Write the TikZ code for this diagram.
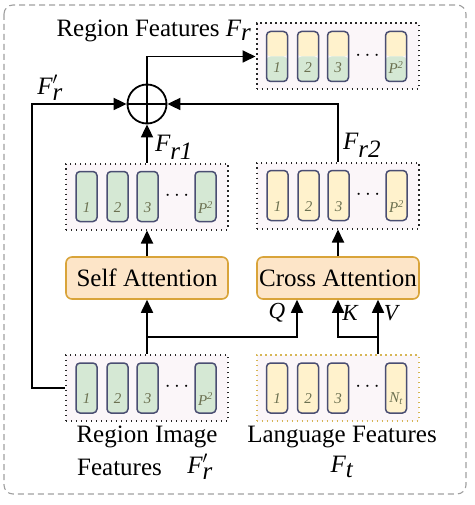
\documentclass[tikz,border=0pt]{standalone}
\usepackage{fontspec}
\setmainfont{Liberation Serif}
\usetikzlibrary{calc,arrows.meta}
\definecolor{pillline}{HTML}{4A4E72}
\definecolor{pgreen}{HTML}{D5E8D4}
\definecolor{pyellow}{HTML}{FFF2CC}
\definecolor{numcol}{HTML}{6B7050}
\definecolor{grpfill}{HTML}{FBF6F9}
\definecolor{attfill}{HTML}{FDE5C8}
\definecolor{attline}{HTML}{D9A43A}
\definecolor{langline}{HTML}{D6B656}
\definecolor{framecol}{HTML}{A0A0A0}
\newcommand{\bigf}{\fontsize{25}{30}\selectfont}
\newcommand{\numf}{\fontsize{15}{16}\selectfont\itshape\color{numcol}}
\tikzset{
  grp/.style={draw=black!85, line width=2pt, dash pattern=on 1.4pt off 3.6pt, fill=grpfill, minimum width=162pt, minimum height=66pt, inner sep=0pt},
  langgrp/.style={grp, draw=langline},
  pill/.style={draw=pillline, line width=1.5pt, rounded corners=4pt, minimum width=21pt, minimum height=50pt, inner sep=0pt},
  greenpill/.style={pill, fill=pgreen},
  yellowpill/.style={pill, fill=pyellow},
  twopill/.style={pill, path picture={
      \fill[pyellow] (path picture bounding box.north west) rectangle (path picture bounding box.east);
      \fill[pgreen] (path picture bounding box.west) rectangle (path picture bounding box.south east);}},
  att/.style={draw=attline, fill=attfill, line width=1.6pt, rounded corners=6pt, minimum width=162pt, minimum height=42pt, inner sep=0pt, font=\bigf},
  arr/.style={line width=1.8pt, -{Triangle[length=13pt,width=12pt]}},
  lbl/.style={font=\bigf, inner sep=0pt},
  qkv/.style={font=\fontsize{23}{25}\selectfont\itshape, inner sep=0pt},
  plus/.style={circle, draw, line width=1.8pt, minimum size=39pt, inner sep=0pt, path picture={
      \draw[line width=1.8pt] (path picture bounding box.north) -- (path picture bounding box.south)
        (path picture bounding box.west) -- (path picture bounding box.east);}}
}
% #1 group name, #2 pill style, #3 last label
\newcommand{\pills}[3]{%
  \foreach \i/\dx/\t in {1/21.5/1,2/52.5/2,3/82.5/3,4/140.5/{#3}}{%
    \node[#2] (#1-p\i) at ($(#1.west)+(\dx,0)$) {};
    \node[font=\numf, inner sep=0pt] (#1-n\i) at ($(#1-p\i.center)+(0,11)$) {\t};
  }
  \node[font=\fontsize{22}{22}\selectfont, inner sep=0pt] (#1-dots) at ($(#1.west)+(112,-1)$) {$\cdots$};
}
\begin{document}
\begin{tikzpicture}[x=1pt,y=-1pt]
\useasboundingbox (0,0) rectangle (474,505);
\draw[framecol, line width=1.1pt, dash pattern=on 6pt off 4pt, rounded corners=9pt] (4,5) rectangle (466,494);

% groups
\node[grp] (top) at (337.5,56.5) {};
\pills{top}{twopill}{P\textsuperscript{2}}
\node[grp] (ml) at (147,196.5) {};
\pills{ml}{greenpill}{P\textsuperscript{2}}
\node[grp] (mr) at (338,195.5) {};
\pills{mr}{yellowpill}{P\textsuperscript{2}}
\node[grp] (bl) at (147,388) {};
\pills{bl}{greenpill}{P\textsuperscript{2}}
\node[langgrp] (br) at (337.5,388) {};
\pills{br}{yellowpill}{N\textsubscript{t}}

% attention blocks
\node[att] (sa) at (147,278) {Self Attention};
\node[att] (ca) at (338,278) {Cross Attention};

% plus
\node[plus] (add) at (147,104) {};

% coordinates
\coordinate (j) at (147,337);
\coordinate (q) at ($(ca.south)+(-41,0)$);
\coordinate (k) at (ca.south);
\coordinate (v) at ($(ca.south)+(40,0)$);

% connectors
\draw[arr] (ml.north) -- (add.south);
\draw[arr] (add.north) |- (top.west);
\draw[arr] (mr.north) |- (add.east);
\draw[arr] (bl.west) -- ++(-33,0) |- (add.west);
\draw[arr] (sa.north) -- (ml.south);
\draw[arr] (ca.north) -- (mr.south);
\draw[arr] (bl.north) -- (sa.south);
\draw[arr] (j) -| (q);
\draw[arr] (v |- br.north) -- (v);
\draw[arr] (v |- j) -| (k);

% labels
\node[lbl] (lt) at (154,31) {Region Features $\textit{F}_{\textit{r}}$};
\node[lbl] (lfr) at (50,88) {$\textit{F}'_{\textit{r}}$};
\node[lbl] (lr1) at (174,147) {$\textit{F}_{\textit{r1}}$};
\node[lbl] (lr2) at (362,145) {$\textit{F}_{\textit{r2}}$};
\node[qkv] (lq) at (277,313) {Q};
\node[qkv] (lk) at (350,313) {K};
\node[qkv] (lv) at (391,313) {V};
\node[lbl] (lb1) at (147,437) {Region Image};
\node[lbl] (lb2) at (119.5,467) {Features};
\node[lbl] (lb3) at (200,467) {$\textit{F}'_{\textit{r}}$};
\node[lbl] (lb4) at (342,437) {Language Features};
\node[lbl] (lb5) at (342,467) {$\textit{F}_{\textit{t}}$};
\end{tikzpicture}
\end{document}
